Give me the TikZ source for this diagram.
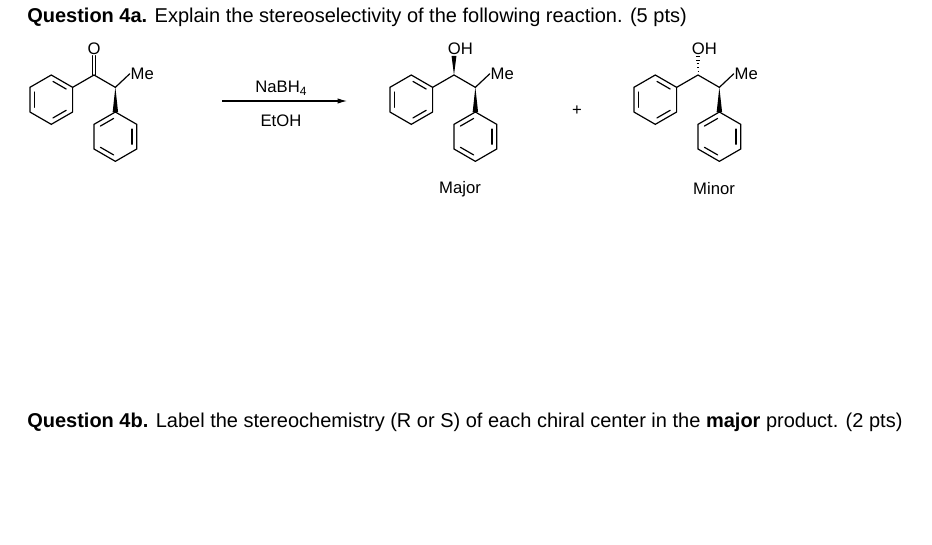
\documentclass[tikz,border=0pt]{standalone}
\usepackage{fontspec}
\setmainfont{Liberation Sans}
\usetikzlibrary{calc,arrows.meta}
\tikzset{bnd/.style={line width=0.9pt,line cap=round},
  lbl/.style={inner sep=0.5pt,font=\fontsize{12.5}{14}\selectfont},
  txt/.style={inner sep=0pt,anchor=base west,font=\fontsize{15}{17}\selectfont}}
\newcommand{\myring}[2]{%
  \draw[bnd] ($(#1)+(30:1)$) -- ($(#1)+(90:1)$) -- ($(#1)+(150:1)$) -- ($(#1)+(210:1)$) -- ($(#1)+(270:1)$) -- ($(#1)+(330:1)$) -- cycle;
  \foreach \a in {#2}{\draw[bnd,shorten <=1.5pt,shorten >=1.5pt] ($(#1)+(\a:0.78)$) -- ($(#1)+(\a+60:0.78)$);}
}
\newcommand{\mybody}{%
  \coordinate (ca) at (-0.866,-0.5);
  \coordinate (cb) at (0.866,-0.5);
  \coordinate (cr) at (0.866,-1.5);
  \coordinate (ra) at (-1.732,-1);
  \coordinate (rb) at (0.866,-2.5);
  \myring{ra}{30,150,270}
  \myring{rb}{90,210,330}
  \draw[bnd] (ca) -- (c1) -- (cb);
  \node[lbl,anchor=west] (me) at (1.45,0.05) {Me};
  \draw[bnd] (cb) -- (me.west);
  \fill (cb) -- ($(cr)+(0.11,0)$) -- ($(cr)+(-0.11,0)$) -- cycle;
}
\begin{document}
\begin{tikzpicture}[x=0.75pt,y=-0.75pt]
\useasboundingbox (0,0) rectangle (932,544);
\node[txt] (t1) at (27,22) {\textbf{Question 4a.} Explain the stereoselectivity of the following reaction. (5 pts)};
\node[txt] (t2) at (27,427) {\textbf{Question 4b.} Label the stereochemistry (R or S) of each chiral center in the \textbf{major} product. (2 pts)};
\begin{scope}[shift={(94,75)},x=18.5pt,y=18.5pt]
  \coordinate (c1) at (0,0);
  \mybody
  \node[lbl] (o) at (0,1.05) {O};
  \draw[bnd] (-0.07,0) -- (-0.07,0.78) (0.07,0) -- (0.07,0.78);
\end{scope}
\coordinate (as) at (222,101);
\coordinate (ae) at (347,101);
\draw[line width=0.8pt,-{Latex[length=7pt,width=4pt]}] (as) -- (ae);
\node[lbl] (r1) at (281,88) {NaBH\raisebox{-0.35ex}{\fontsize{9}{10}\selectfont 4}};
\node[lbl] (r2) at (281,121) {EtOH};
\begin{scope}[shift={(454,75)},x=18.5pt,y=18.5pt]
  \coordinate (c1) at (0,0);
  \mybody
  \node[lbl] (oh) at (0.26,1.05) {OH};
  \fill (0,0) -- (0.1,0.78) -- (-0.1,0.78) -- cycle;
\end{scope}
\node[lbl] (plus) at (577,111) {+};
\begin{scope}[shift={(698,75)},x=18.5pt,y=18.5pt]
  \coordinate (c1) at (0,0);
  \mybody
  \node[lbl] (oh2) at (0.26,1.05) {OH};
  \foreach \t in {0.15,0.3,0.45,0.6,0.75}{\draw[line width=0.7pt] (-0.12*\t,\t) -- (0.12*\t,\t);}
\end{scope}
\node[lbl] (maj) at (460,189) {Major};
\node[lbl] (mnr) at (714,189) {Minor};
\end{tikzpicture}
\end{document}
